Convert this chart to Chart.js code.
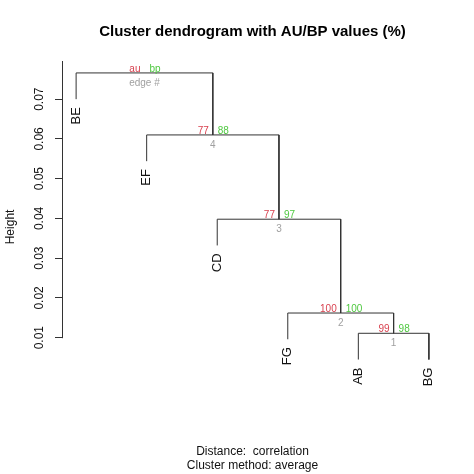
<!DOCTYPE html>
<html>
<head>
<meta charset="utf-8">
<script src="https://cdn.jsdelivr.net/npm/chart.js@4/dist/chart.umd.min.js"></script>
<style>
  html, body { margin: 0; padding: 0; background: #fff; }
  #wrap { position: relative; width: 474px; height: 474px; }
</style>
</head>
<body>
<div id="wrap"><canvas id="chart"></canvas></div>
<script>
// leaves in plotting order (x = 1..6)
const leafLabels = ["BE", "EF", "CD", "FG", "AB", "BG"];
// hclust style merges: negative = leaf (1-based index above), positive = earlier merge
const mergeLeft = [-5, -4, -3, -2, -1];
const mergeRight = [-6, 1, 2, 3, 4];
const mergeHeight = [0.0111, 0.0162, 0.0398, 0.0610, 0.0766];
// AU / BP values (%) for edges 1..4 (root gets the legend)
const auValues = [99, 100, 77, 77];
const bpValues = [98, 100, 97, 88];
const edgeNumbers = [1, 2, 3, 4];
const leafHang = 0.0066;
const yTicks = [0.01, 0.02, 0.03, 0.04, 0.05, 0.06, 0.07];

const FONT = "'Liberation Sans', Arial, sans-serif";
const LINE = "#333333";
const RED = "#D8414F";
const GREEN = "#4FC840";
const GREY = "#A0A0A0";

// x position of every merge (mean of its two children)
const nodeX = [];
const childX = (c) => (c < 0 ? -c : nodeX[c - 1]);
mergeLeft.forEach((l, i) => {
  nodeX.push((childX(l) + childX(mergeRight[i])) / 2);
});
const childBottom = (c, h) => (c < 0 ? h - leafHang : mergeHeight[c - 1]);

const datasets = mergeLeft.map((l, i) => {
  const r = mergeRight[i];
  const h = mergeHeight[i];
  return {
    data: [
      { x: childX(l), y: childBottom(l, h) },
      { x: childX(l), y: h },
      { x: childX(r), y: h },
      { x: childX(r), y: childBottom(r, h) }
    ],
    showLine: true,
    borderColor: LINE,
    borderWidth: 1,
    pointRadius: 0,
    tension: 0
  };
});

// leaf labels, au/bp values and the y axis line
const dendroText = {
  id: "dendroText",
  afterDatasetsDraw(chart) {
    const { ctx, scales: { x, y }, chartArea } = chart;
    ctx.save();

    // axis line from first tick up to the top
    ctx.strokeStyle = LINE;
    ctx.lineWidth = 1;
    ctx.beginPath();
    const ax = Math.round(chartArea.left) + 0.5;
    ctx.moveTo(ax, y.getPixelForValue(yTicks[0]) + 0.5);
    ctx.lineTo(ax, chartArea.top);
    ctx.stroke();

    // leaf labels
    ctx.font = "13px " + FONT;
    ctx.fillStyle = "#111";
    ctx.textAlign = "right";
    ctx.textBaseline = "middle";
    mergeLeft.forEach((l, i) => {
      [l, mergeRight[i]].forEach((c) => {
        if (c >= 0) return;
        const px = x.getPixelForValue(-c);
        const py = y.getPixelForValue(mergeHeight[i] - leafHang) + 8;
        ctx.save();
        ctx.translate(px, py);
        ctx.rotate(-Math.PI / 2);
        ctx.fillText(leafLabels[-c - 1], 0, 0);
        ctx.restore();
      });
    });

    // au / bp / edge numbers
    ctx.font = "10px " + FONT;
    nodeX.forEach((nx, i) => {
      const px = x.getPixelForValue(nx);
      const py = y.getPixelForValue(mergeHeight[i]);
      const isRoot = i === nodeX.length - 1;
      const au = isRoot ? "au" : String(auValues[i]);
      const bp = isRoot ? "bp" : String(bpValues[i]);
      const ed = isRoot ? "edge #" : String(edgeNumbers[i]);
      ctx.textBaseline = "alphabetic";
      ctx.fillStyle = RED;
      ctx.textAlign = "right";
      ctx.fillText(au, px - 4, py - 1);
      ctx.fillStyle = GREEN;
      ctx.textAlign = "left";
      ctx.fillText(bp, px + 5, py - 1);
      ctx.fillStyle = GREY;
      ctx.textAlign = "center";
      ctx.textBaseline = "middle";
      ctx.fillText(ed, px, py + 10);
    });

    ctx.restore();
  }
};

new Chart(document.getElementById("chart"), {
  type: "scatter",
  data: { datasets },
  plugins: [dendroText],
  options: {
    responsive: true,
    maintainAspectRatio: false,
    animation: false,
    events: [],
    layout: { padding: { left: 0, right: 31, top: 0, bottom: 0 } },
    plugins: {
      legend: { display: false },
      tooltip: { enabled: false },
      title: {
        display: true,
        fullSize: false,
        text: "Cluster dendrogram with AU/BP values (%)",
        color: "#000",
        font: { family: FONT, size: 15, weight: "bold" },
        padding: { top: 23, bottom: 20 }
      },
      subtitle: {
        display: true,
        fullSize: false,
        position: "bottom",
        text: ["Distance:  correlation", "Cluster method: average"],
        color: "#111",
        font: { family: FONT, size: 12, lineHeight: 1.17 },
        padding: { top: 52, bottom: 1 }
      }
    },
    scales: {
      x: {
        type: "linear",
        min: 0.8,
        max: 6.2,
        display: false
      },
      y: {
        type: "linear",
        min: -0.0039,
        max: 0.0796,
        afterBuildTicks(scale) {
          scale.ticks = yTicks.map((v) => ({ value: v }));
        },
        afterFit(scale) {
          scale.width = 62;
        },
        border: { display: false },
        grid: {
          drawOnChartArea: false,
          drawTicks: true,
          tickLength: 7,
          color: LINE,
          lineWidth: 1
        },
        ticks: {
          minRotation: 90,
          maxRotation: 90,
          crossAlign: "center",
          padding: 4,
          color: "#111",
          font: { family: FONT, size: 12 },
          callback: (v) => Number(v).toFixed(2)
        },
        title: {
          display: true,
          text: "Height",
          color: "#111",
          font: { family: FONT, size: 12 },
          padding: { top: 3, bottom: 0 }
        }
      }
    }
  }
});
</script>
</body>
</html>
